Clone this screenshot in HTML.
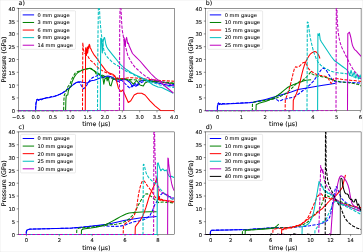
<!DOCTYPE html>
<html><head><meta charset="utf-8"><title>Pressure gauges</title>
<style>html,body{margin:0;padding:0;background:#fff}svg{display:block}</style></head>
<body>
<svg width="363" height="252" viewBox="0 0 363 252" font-family="DejaVu Sans, Liberation Sans, sans-serif" font-size="5.25" fill="#000" stroke="#000" stroke-width="0.07">
<rect width="363" height="252" fill="#fff"/>
<g id="pa">
<rect x="18.4" y="8.3" width="155.90" height="102.40" fill="none" stroke="#000" stroke-width="0.42"/>
<clipPath id="ca"><rect x="18.4" y="8.3" width="155.90" height="102.90"/></clipPath>
<g clip-path="url(#ca)" fill="none" stroke-width="1.05" stroke-linejoin="round">
<polyline points="18.4,110.7 35.6,110.7 36.0,104.0 36.8,100.2 37.5,99.5 38.5,100.5 40.0,99.2 41.5,99.8 43.0,98.6 45.0,98.5 46.7,97.6 49.0,97.8 51.0,97.0 53.0,96.8 55.0,96.2 57.5,95.3 60.0,94.2 63.3,92.5 66.0,90.6 68.0,89.0 70.0,87.5 72.0,85.6 75.0,83.3 77.0,82.3 80.0,81.7 82.0,82.2 85.0,82.6 87.0,83.2 89.0,82.0 91.0,80.8 94.3,80.3 97.0,79.3 99.3,78.3 102.7,77.5 105.0,76.5 108.0,76.0 111.0,76.8 113.0,77.5 115.0,79.5 118.0,81.5 121.0,79.8 124.0,79.3 126.7,80.0 130.0,82.5 132.5,86.7 135.0,83.3 136.7,85.8 139.2,81.7 143.3,80.0 148.0,80.5 153.3,81.7 158.0,83.0 163.3,84.2 168.0,85.3 174.3,86.0" stroke="#0000ff"/>
<polyline points="18.4,110.7 35.4,110.7 35.8,104.0 36.5,100.0 37.5,99.2 39.0,100.0 41.0,99.0 43.0,99.0 45.0,98.0 48.0,97.8 51.0,96.8 55.0,96.0 59.0,94.6 63.0,92.6 67.0,89.6 70.0,87.0 73.0,84.6 76.0,82.8 78.5,82.0 80.0,83.0 81.5,86.0 83.5,88.8 85.5,87.0 87.5,84.0 90.0,80.0 92.7,77.5 95.0,76.8 97.5,75.5 99.0,74.5 100.5,76.0 103.0,77.5 107.0,76.5 110.0,78.0 113.0,79.0 118.0,79.0 122.0,80.5 125.0,83.5 127.5,86.0 130.0,88.3 133.0,84.5 136.5,86.7 140.0,83.0 145.0,81.0 150.0,80.0 156.0,80.5 163.0,82.0 170.0,83.8 174.3,84.5" stroke="#0000ff" stroke-dasharray="3.2 1.4"/>
<polyline points="18.4,110.7 65.6,110.7 65.9,100.0 66.3,95.2 67.8,95.0 68.3,91.0 69.2,88.5 70.0,87.0 71.0,86.5 72.0,82.0 74.0,77.5 76.0,74.5 78.0,72.5 81.0,70.8 84.0,69.6 87.0,68.8 90.0,68.2 91.5,68.5 93.0,70.0 95.0,71.5 96.0,73.7 100.4,74.8 102.7,76.4 103.8,84.2 104.9,78.7 106.6,77.6 107.1,80.9 108.2,77.6 109.9,85.3 111.0,85.9 112.7,79.8 114.3,79.2 116.0,78.7 120.4,79.2 124.0,78.5 127.0,79.5 130.0,80.5 133.3,84.2 136.7,80.5 140.0,85.0 143.3,86.0 145.0,83.0 148.0,81.5 153.0,81.7 158.0,81.5 163.0,82.5 168.0,83.0 174.3,83.5" stroke="#008000"/>
<polyline points="18.4,110.7 63.6,110.7 63.9,100.0 64.3,95.0 65.5,93.0 66.8,89.0 68.0,86.5 70.0,84.0 71.5,79.5 73.5,76.0 75.0,73.3 78.0,71.5 81.0,70.4 84.0,69.5 87.0,69.0 90.0,68.6 93.0,70.0 96.0,72.0 99.0,73.8 102.0,75.0 105.0,76.5 108.0,77.5 112.0,78.0 116.0,78.3 121.0,78.8 126.0,79.3 132.0,79.8 140.0,80.0 150.0,80.8 160.0,81.8 174.3,83.0" stroke="#008000" stroke-dasharray="3.2 1.4"/>
<polyline points="18.4,110.7 85.3,110.7 85.6,47.7 86.0,53.0 86.4,55.5 86.8,49.0 87.2,47.0 87.6,53.3 88.0,50.5 88.4,46.0 88.8,48.5 89.2,44.2 89.7,45.0 90.2,47.7 91.0,49.0 91.8,51.0 94.3,55.2 97.7,59.3 99.3,62.0 102.7,66.4 106.0,70.9 109.3,73.1 112.7,74.2 114.9,75.9 116.3,80.0 117.7,85.3 118.5,88.3 121.0,91.7 122.8,90.0 125.0,95.0 128.3,102.5 130.8,100.8 134.2,95.0 137.5,93.3 141.7,93.3 145.0,95.0 150.0,100.8 155.0,105.8 160.8,110.7 174.3,110.7" stroke="#ff0000"/>
<polyline points="18.4,110.7 82.5,110.7 82.8,42.7 83.5,50.0 84.5,53.0 86.0,54.3 88.0,56.5 90.2,60.2 94.3,63.5 96.0,65.9 99.3,68.7 102.7,70.9 106.0,72.6 109.3,73.7 112.7,75.3 116.0,77.6 119.3,78.4 123.8,78.7 129.3,77.6 136.0,78.0 145.0,79.0 155.0,80.0 165.0,80.8 174.3,81.3" stroke="#ff0000" stroke-dasharray="3.2 1.4"/>
<polyline points="18.4,110.7 100.3,110.7 100.7,38.2 101.5,38.6 102.3,53.0 103.2,41.0 104.0,38.0 104.6,37.5 105.3,41.0 105.9,44.5 106.8,47.0 108.5,49.7 112.0,54.1 115.5,58.4 118.9,62.8 122.4,66.3 126.8,69.8 131.2,72.7 135.5,75.0 140.0,77.0 145.0,79.2 149.0,82.0 153.3,85.0 158.0,87.0 161.7,87.5 168.3,90.8 173.3,93.3" stroke="#00bfbf"/>
<polyline points="18.4,110.7 97.5,110.7 97.9,40.0 98.4,8.0 99.3,4.0 100.0,20.0 100.9,30.0 101.8,37.3 102.7,43.0 104.0,51.0 106.0,55.5 108.5,58.4 112.0,61.9 115.5,64.5 118.9,66.3 122.4,68.9 126.8,71.5 131.2,73.3 135.5,75.9 141.0,78.0 146.0,79.8 152.0,82.3 160.0,85.0 168.0,86.5 174.3,87.5" stroke="#00bfbf" stroke-dasharray="3.2 1.4"/>
<polyline points="123.7,110.7 124.1,37.7 124.7,41.0 125.3,46.0 125.9,40.0 126.6,37.4 127.2,40.5 127.6,43.5 128.3,43.0 129.2,46.0 132.5,53.5 135.8,56.8 140.0,61.0 145.0,66.8 150.8,73.5 155.0,77.7 160.0,81.7 166.7,87.5 173.3,93.0" stroke="#bf00bf"/>
<polyline points="18.4,110.7 119.4,110.7 119.7,30.0 120.1,4.0 120.8,4.0 121.5,20.0 122.2,30.0 123.5,37.3 124.2,41.0 125.9,48.0 127.7,55.0 130.3,60.5 132.9,64.6 135.5,67.8 137.5,69.5 141.7,73.3 147.0,77.3 153.3,79.8 161.7,81.7 174.3,86.0" stroke="#bf00bf" stroke-dasharray="3.2 1.4"/>
</g>
<text x="18.40" y="118.55" text-anchor="middle">−0.5</text>
<text x="35.72" y="118.55" text-anchor="middle">0.0</text>
<text x="53.04" y="118.55" text-anchor="middle">0.5</text>
<text x="70.37" y="118.55" text-anchor="middle">1.0</text>
<text x="87.69" y="118.55" text-anchor="middle">1.5</text>
<text x="105.01" y="118.55" text-anchor="middle">2.0</text>
<text x="122.33" y="118.55" text-anchor="middle">2.5</text>
<text x="139.66" y="118.55" text-anchor="middle">3.0</text>
<text x="156.98" y="118.55" text-anchor="middle">3.5</text>
<text x="174.30" y="118.55" text-anchor="middle">4.0</text>
<text x="15.10" y="113.10" text-anchor="end">0</text>
<text x="15.10" y="100.30" text-anchor="end">5</text>
<text x="15.10" y="87.50" text-anchor="end">10</text>
<text x="15.10" y="74.70" text-anchor="end">15</text>
<text x="15.10" y="61.90" text-anchor="end">20</text>
<text x="15.10" y="49.10" text-anchor="end">25</text>
<text x="15.10" y="36.30" text-anchor="end">30</text>
<text x="15.10" y="23.50" text-anchor="end">35</text>
<text x="15.10" y="10.70" text-anchor="end">40</text>
<path d="M18.40 110.7v1.7 M35.72 110.7v1.7 M53.04 110.7v1.7 M70.37 110.7v1.7 M87.69 110.7v1.7 M105.01 110.7v1.7 M122.33 110.7v1.7 M139.66 110.7v1.7 M156.98 110.7v1.7 M174.30 110.7v1.7 M18.4 110.70h-1.7 M18.4 97.90h-1.7 M18.4 85.10h-1.7 M18.4 72.30h-1.7 M18.4 59.50h-1.7 M18.4 46.70h-1.7 M18.4 33.90h-1.7 M18.4 21.10h-1.7 M18.4 8.30h-1.7" stroke="#000" stroke-width="0.42" fill="none"/>
<text x="96.35" y="126.30" text-anchor="middle" font-size="6.3">time (µs)</text>
<text transform="translate(5.70 59.50) rotate(-90)" text-anchor="middle" font-size="6.3">Pressure (GPa)</text>
<text x="18.60" y="5.20" font-size="6.3">a)</text>
<rect x="20.599999999999998" y="10.8" width="54.9" height="38.50" rx="0.8" fill="#fff" fill-opacity="0.8" stroke="#ccc" stroke-width="0.4"/>
<path d="M22.70 14.90h11.4" stroke="#0000ff" stroke-width="1"/>
<text x="37.60" y="16.75" font-size="5.05">0 mm gauge</text>
<path d="M22.70 22.48h11.4" stroke="#008000" stroke-width="1"/>
<text x="37.60" y="24.33" font-size="5.05">3 mm gauge</text>
<path d="M22.70 30.06h11.4" stroke="#ff0000" stroke-width="1"/>
<text x="37.60" y="31.91" font-size="5.05">6 mm gauge</text>
<path d="M22.70 37.64h11.4" stroke="#00bfbf" stroke-width="1"/>
<text x="37.60" y="39.49" font-size="5.05">9 mm gauge</text>
<path d="M22.70 45.22h11.4" stroke="#bf00bf" stroke-width="1"/>
<text x="37.60" y="47.07" font-size="5.05">14 mm gauge</text>
</g>
<g id="pb">
<rect x="205.5" y="8.3" width="155.60" height="102.40" fill="none" stroke="#000" stroke-width="0.42"/>
<clipPath id="cb"><rect x="205.5" y="8.3" width="155.60" height="102.90"/></clipPath>
<g clip-path="url(#cb)" fill="none" stroke-width="1.05" stroke-linejoin="round">
<polyline points="205.5,110.7 217.3,110.7 217.6,106.0 218.0,103.8 218.6,102.9 219.3,104.6 220.2,103.6 221.5,104.4 223.0,103.8 226.0,104.0 230.0,103.7 236.0,103.4 244.0,103.0 252.4,102.6 258.0,101.0 264.8,99.8 270.6,98.1 280.9,95.0 291.2,92.0 298.0,89.6 309.9,87.5 315.5,86.5 323.0,85.3 329.7,84.2 335.6,83.2" stroke="#0000ff"/>
<polyline points="205.5,110.7 217.1,110.7 217.4,106.0 217.8,104.0 218.6,103.3 220.0,104.2 222.0,103.6 226.0,103.8 232.0,103.4 240.0,103.0 250.0,102.6 258.0,101.4 265.0,100.0 270.0,99.0 274.7,98.3 277.0,99.8 278.9,101.2 281.0,100.4 283.0,99.6 289.2,98.1 294.3,97.1 298.5,94.0 303.0,90.5 306.7,87.9 310.2,84.4 313.7,80.9 317.2,75.7 320.7,70.4 323.3,67.8 325.9,69.6 328.5,73.9 331.2,78.3 333.8,80.9 335.5,81.8 340.0,82.0 347.0,82.3 355.0,82.8 361.1,83.0" stroke="#0000ff" stroke-dasharray="3.2 1.4"/>
<polyline points="205.5,110.7 256.0,110.7 256.2,104.5 257.5,104.0 259.0,103.3 262.4,102.3 265.5,101.4 268.6,100.2 271.6,98.8 274.7,97.1 277.8,95.2 280.9,93.0 284.0,90.4 287.1,87.8 290.2,86.0 293.3,84.7 296.4,83.6 299.5,82.5 303.2,80.9 306.0,80.3 308.5,80.0 311.1,79.7" stroke="#008000"/>
<polyline points="205.5,110.7 252.3,110.7 252.5,103.0 253.5,102.3 258.2,101.4 262.0,100.8 266.5,100.2 272.7,99.2 278.9,97.1 285.0,94.0 288.0,91.6 291.2,88.9 294.0,86.0 296.4,83.7 299.0,82.0 301.5,80.6 303.2,80.0 306.0,77.5 308.5,74.8 310.6,72.2 312.0,73.9 315.5,75.7 320.7,76.5 325.9,77.4 332.9,80.0 340.0,81.8 347.0,82.6 352.7,83.2 358.6,84.6 361.1,86.0" stroke="#008000" stroke-dasharray="3.2 1.4"/>
<polyline points="205.5,110.7 293.1,110.7 293.3,100.2 294.2,98.2 295.3,96.0 296.4,93.8 297.5,90.8 298.7,87.1 299.8,82.8 300.9,78.2 302.0,73.6 303.1,69.3 304.2,65.8 305.3,62.7 306.5,60.2 307.6,58.2 308.9,56.0 310.2,54.2 312.5,52.4 314.6,51.6 316.0,51.8 317.2,53.0 318.4,54.8 319.3,56.8 320.0,58.5" stroke="#ff0000"/>
<polyline points="205.5,110.7 285.1,110.7 285.3,100.4 286.4,97.0 287.6,93.8 288.7,90.5 289.8,87.1 290.9,82.8 292.0,78.2 293.1,73.5 294.2,69.3 295.0,67.5 295.8,66.7 296.7,67.3 297.6,67.1 298.7,66.5 299.8,66.0 301.5,64.2 303.1,62.7 304.5,62.2 306.0,63.5 307.3,66.0 308.7,68.9 311.0,71.3 315.5,73.9 320.0,75.3 325.9,76.5 328.0,78.0 329.7,81.0 331.2,83.5 332.5,81.5 333.5,79.0 334.6,78.3 338.0,78.8 342.8,79.5 350.0,80.2 356.0,80.8 361.1,81.5" stroke="#ff0000" stroke-dasharray="3.2 1.4"/>
<polyline points="205.5,110.7 317.6,110.7 317.9,33.8 318.6,35.5 319.4,33.4 320.2,39.4 321.5,42.0 322.9,44.0 324.2,46.0 327.7,51.2 331.2,56.5 334.6,60.8 338.8,63.8 342.8,66.7 346.8,69.7 348.5,72.0 349.7,75.2 351.1,70.3 352.7,76.2 354.3,72.0 355.7,78.0 357.1,74.0 358.6,79.0 360.2,75.0 361.1,79.0" stroke="#00bfbf"/>
<polyline points="205.5,110.7 307.0,110.7 307.3,22.1 308.2,22.5 308.7,27.0 309.6,33.6 310.4,38.5 311.4,42.8 312.5,47.5 313.7,52.1 315.0,55.5 316.3,59.0 318.0,62.0 320.7,65.2 323.0,67.0 325.9,68.7 329.0,70.3 332.9,71.8 338.8,72.9 344.8,73.5 347.8,74.1 352.7,76.6 357.0,77.8 361.1,78.6" stroke="#00bfbf" stroke-dasharray="3.2 1.4"/>
<polyline points="347.5,110.7 347.8,33.6 348.6,33.0 349.4,32.2 350.2,35.0 351.0,38.2 351.7,42.0 352.4,45.1 353.2,47.0 354.0,48.6 355.0,49.8 356.3,50.9 358.0,52.8 359.8,54.8 361.1,56.4" stroke="#bf00bf"/>
<polyline points="205.5,110.7 336.0,110.7 336.3,4.0 336.8,4.0 337.2,19.8 338.1,31.3 339.1,38.2 340.2,42.8 341.8,47.4 344.1,52.1 346.4,56.7 348.5,61.0 350.5,65.0 352.7,68.7 355.7,72.7 359.6,77.2 361.1,79.0" stroke="#bf00bf" stroke-dasharray="3.2 1.4"/>
</g>
<text x="217.74" y="118.55" text-anchor="middle">0</text>
<text x="241.52" y="118.55" text-anchor="middle">1</text>
<text x="265.29" y="118.55" text-anchor="middle">2</text>
<text x="289.07" y="118.55" text-anchor="middle">3</text>
<text x="312.84" y="118.55" text-anchor="middle">4</text>
<text x="336.61" y="118.55" text-anchor="middle">5</text>
<text x="360.39" y="118.55" text-anchor="middle">6</text>
<text x="202.20" y="113.10" text-anchor="end">0</text>
<text x="202.20" y="100.30" text-anchor="end">5</text>
<text x="202.20" y="87.50" text-anchor="end">10</text>
<text x="202.20" y="74.70" text-anchor="end">15</text>
<text x="202.20" y="61.90" text-anchor="end">20</text>
<text x="202.20" y="49.10" text-anchor="end">25</text>
<text x="202.20" y="36.30" text-anchor="end">30</text>
<text x="202.20" y="23.50" text-anchor="end">35</text>
<text x="202.20" y="10.70" text-anchor="end">40</text>
<path d="M217.74 110.7v1.7 M241.52 110.7v1.7 M265.29 110.7v1.7 M289.07 110.7v1.7 M312.84 110.7v1.7 M336.61 110.7v1.7 M360.39 110.7v1.7 M205.5 110.70h-1.7 M205.5 97.90h-1.7 M205.5 85.10h-1.7 M205.5 72.30h-1.7 M205.5 59.50h-1.7 M205.5 46.70h-1.7 M205.5 33.90h-1.7 M205.5 21.10h-1.7 M205.5 8.30h-1.7" stroke="#000" stroke-width="0.42" fill="none"/>
<text x="283.30" y="126.30" text-anchor="middle" font-size="6.3">time (µs)</text>
<text transform="translate(192.80 59.50) rotate(-90)" text-anchor="middle" font-size="6.3">Pressure (GPa)</text>
<text x="205.70" y="5.20" font-size="6.3">b)</text>
<rect x="207.7" y="10.8" width="54.9" height="38.50" rx="0.8" fill="#fff" fill-opacity="0.8" stroke="#ccc" stroke-width="0.4"/>
<path d="M209.80 14.90h11.4" stroke="#0000ff" stroke-width="1"/>
<text x="224.70" y="16.75" font-size="5.05">0 mm gauge</text>
<path d="M209.80 22.48h11.4" stroke="#008000" stroke-width="1"/>
<text x="224.70" y="24.33" font-size="5.05">10 mm gauge</text>
<path d="M209.80 30.06h11.4" stroke="#ff0000" stroke-width="1"/>
<text x="224.70" y="31.91" font-size="5.05">15 mm gauge</text>
<path d="M209.80 37.64h11.4" stroke="#00bfbf" stroke-width="1"/>
<text x="224.70" y="39.49" font-size="5.05">20 mm gauge</text>
<path d="M209.80 45.22h11.4" stroke="#bf00bf" stroke-width="1"/>
<text x="224.70" y="47.07" font-size="5.05">25 mm gauge</text>
</g>
<g id="pc">
<rect x="18.4" y="131.9" width="155.90" height="102.60" fill="none" stroke="#000" stroke-width="0.42"/>
<clipPath id="cc"><rect x="18.4" y="131.9" width="155.90" height="103.10"/></clipPath>
<g clip-path="url(#cc)" fill="none" stroke-width="1.05" stroke-linejoin="round">
<polyline points="18.4,234.5 26.2,234.5 26.4,232.0 26.8,230.6 27.6,229.7 29.6,229.2 35.0,229.0 46.9,228.7 56.0,228.5 66.2,228.3 72.0,228.1 83.4,227.1 94.9,225.8 106.3,224.3 112.0,223.3 117.7,222.0 123.9,220.6 131.9,219.2 139.8,218.1 147.8,217.2 156.7,216.4" stroke="#0000ff"/>
<polyline points="18.4,234.5 26.0,234.5 26.2,232.0 26.7,230.4 27.6,229.6 30.0,229.1 40.0,228.9 55.0,228.5 70.0,228.2 83.0,227.2 94.0,226.0 100.6,225.4 105.0,225.9 110.1,226.3 115.0,226.4 119.6,226.2 123.9,225.5 127.9,223.8 133.9,221.8 139.8,220.8 145.8,218.8 149.8,215.8 152.8,209.8 154.7,204.9 156.7,201.9 158.7,197.9 160.7,194.9 162.8,192.9 164.5,193.7 167.7,195.9 171.6,197.4 174.3,198.3" stroke="#0000ff" stroke-dasharray="3.2 1.4"/>
<polyline points="18.4,234.5 81.3,234.5 81.5,230.2 82.4,229.5 83.4,229.0 87.0,228.5 91.0,228.1 96.0,227.3 100.6,226.2 106.3,224.3 109.0,223.0 112.0,221.4 115.0,219.8 117.7,218.2 120.5,216.6 123.4,215.2 126.0,214.0 129.1,213.1 133.9,212.4 141.8,212.0 149.8,211.8 156.7,211.8" stroke="#008000"/>
<polyline points="18.4,234.5 76.6,234.5 76.8,229.3 78.0,228.6 79.6,228.1 85.0,227.6 91.0,227.1 97.0,226.5 102.5,225.8 106.5,225.2 110.1,224.7 115.8,224.3 119.0,223.8 121.5,223.0 124.5,221.8 127.9,219.8 131.0,217.0 133.9,213.8 136.0,210.0 137.9,205.9 140.0,202.0 141.8,198.9 144.0,195.6 145.8,193.9 147.2,193.7 148.8,194.9 151.8,196.9 155.7,200.4 158.7,202.6 163.0,202.0 168.0,202.4 174.3,203.0" stroke="#008000" stroke-dasharray="3.2 1.4"/>
<polyline points="18.4,234.5 135.1,234.5 135.3,227.0 136.0,225.8 136.9,224.7 138.4,222.8 139.8,220.8 141.3,218.5 142.8,215.8 144.3,212.0 145.8,207.9 147.3,203.0 148.8,197.9 150.3,194.0 151.8,190.5 153.2,187.5 154.8,184.2 156.0,180.5 156.8,178.0 157.4,180.0 157.8,186.0 158.2,194.0 158.6,199.5 159.4,197.0 160.2,200.4 161.5,199.2 163.0,200.0 166.0,200.4 170.0,201.0 174.3,201.6" stroke="#ff0000"/>
<polyline points="18.4,234.5 123.2,234.5 123.4,226.0 124.9,223.8 127.9,221.8 130.0,220.4 131.9,218.8 133.5,216.5 134.9,213.8 136.0,210.0 136.9,205.9 137.6,200.5 138.3,195.9 139.2,191.0 140.0,187.7 141.0,184.0 142.0,181.8 142.9,180.4 143.9,180.8 145.0,182.0 145.9,183.7 147.4,185.7 148.9,187.7 150.4,189.7 151.9,191.7 153.4,194.0 154.8,196.6 156.3,198.3 157.8,199.6 161.0,200.3 165.0,200.8 170.0,201.6 174.3,202.3" stroke="#ff0000" stroke-dasharray="3.2 1.4"/>
<polyline points="18.4,234.5 157.1,234.5 157.4,163.2 158.2,162.9 158.8,165.0 159.4,166.9 160.1,169.0 160.8,170.8 161.8,169.6 162.8,168.9 163.8,170.0 164.8,170.8 165.8,170.2 166.8,169.9 167.3,172.0 167.7,173.8 168.7,175.5 169.7,176.8 170.7,176.4 171.7,176.2 172.7,177.0 173.7,177.4 174.3,177.0" stroke="#00bfbf"/>
<polyline points="18.4,234.5 143.0,234.5 143.3,164.7 143.9,164.3 144.6,166.5 145.5,170.8 146.2,173.0 146.9,174.8 147.9,176.4 148.9,177.8 150.9,179.8 152.9,181.8 154.8,183.0 157.0,185.0 159.5,188.0 162.0,191.0 165.0,194.0 168.0,196.5 171.0,198.5 174.3,200.0" stroke="#00bfbf" stroke-dasharray="3.2 1.4"/>
<polyline points="167.6,234.5 167.9,158.0 168.3,158.5 168.7,163.9 169.2,168.0 169.7,171.8 170.2,175.0 170.7,177.8 171.2,181.0 171.7,183.7 172.5,186.5 173.3,188.7 174.3,190.8" stroke="#bf00bf"/>
<polyline points="18.4,234.5 153.6,234.5 153.9,128.0 154.5,128.0 154.9,150.0 155.4,166.0 156.0,176.0 156.8,183.0 157.8,187.0 159.8,190.8 162.0,192.5 164.5,193.8 168.0,195.2 171.0,197.6 174.3,199.5" stroke="#bf00bf" stroke-dasharray="3.2 1.4"/>
</g>
<text x="26.45" y="242.35" text-anchor="middle">0</text>
<text x="59.31" y="242.35" text-anchor="middle">2</text>
<text x="92.16" y="242.35" text-anchor="middle">4</text>
<text x="125.02" y="242.35" text-anchor="middle">6</text>
<text x="157.87" y="242.35" text-anchor="middle">8</text>
<text x="15.10" y="236.90" text-anchor="end">0</text>
<text x="15.10" y="224.08" text-anchor="end">5</text>
<text x="15.10" y="211.25" text-anchor="end">10</text>
<text x="15.10" y="198.43" text-anchor="end">15</text>
<text x="15.10" y="185.60" text-anchor="end">20</text>
<text x="15.10" y="172.78" text-anchor="end">25</text>
<text x="15.10" y="159.95" text-anchor="end">30</text>
<text x="15.10" y="147.13" text-anchor="end">35</text>
<text x="15.10" y="134.30" text-anchor="end">40</text>
<path d="M26.45 234.5v1.7 M59.31 234.5v1.7 M92.16 234.5v1.7 M125.02 234.5v1.7 M157.87 234.5v1.7 M18.4 234.50h-1.7 M18.4 221.68h-1.7 M18.4 208.85h-1.7 M18.4 196.03h-1.7 M18.4 183.20h-1.7 M18.4 170.38h-1.7 M18.4 157.55h-1.7 M18.4 144.73h-1.7 M18.4 131.90h-1.7" stroke="#000" stroke-width="0.42" fill="none"/>
<text x="96.35" y="250.10" text-anchor="middle" font-size="6.3">time (µs)</text>
<text transform="translate(5.70 183.20) rotate(-90)" text-anchor="middle" font-size="6.3">Pressure (GPa)</text>
<text x="18.60" y="128.80" font-size="6.3">c)</text>
<rect x="20.599999999999998" y="134.4" width="54.9" height="38.50" rx="0.8" fill="#fff" fill-opacity="0.8" stroke="#ccc" stroke-width="0.4"/>
<path d="M22.70 138.50h11.4" stroke="#0000ff" stroke-width="1"/>
<text x="37.60" y="140.35" font-size="5.05">0 mm gauge</text>
<path d="M22.70 146.08h11.4" stroke="#008000" stroke-width="1"/>
<text x="37.60" y="147.93" font-size="5.05">10 mm gauge</text>
<path d="M22.70 153.66h11.4" stroke="#ff0000" stroke-width="1"/>
<text x="37.60" y="155.51" font-size="5.05">20 mm gauge</text>
<path d="M22.70 161.24h11.4" stroke="#00bfbf" stroke-width="1"/>
<text x="37.60" y="163.09" font-size="5.05">25 mm gauge</text>
<path d="M22.70 168.82h11.4" stroke="#bf00bf" stroke-width="1"/>
<text x="37.60" y="170.67" font-size="5.05">30 mm gauge</text>
</g>
<g id="pd">
<rect x="205.5" y="131.9" width="155.60" height="102.60" fill="none" stroke="#000" stroke-width="0.42"/>
<clipPath id="cd"><rect x="205.5" y="131.9" width="155.60" height="103.10"/></clipPath>
<g clip-path="url(#cd)" fill="none" stroke-width="1.05" stroke-linejoin="round">
<polyline points="205.5,234.5 210.3,234.5 210.5,232.0 210.9,230.8 211.8,230.3 216.0,230.2 227.0,230.1 238.0,229.8 249.0,229.5 260.0,228.8 271.0,228.0 278.5,227.5" stroke="#0000ff"/>
<polyline points="205.5,234.5 210.2,234.5 210.4,232.0 210.9,230.6 212.0,230.2 227.0,230.0 249.0,229.4 268.0,228.0 278.0,227.7 293.0,227.3 301.3,226.8 309.7,225.7 318.0,224.3 321.0,223.5 324.1,222.5 327.6,220.2 329.4,217.8 330.6,214.5 331.8,207.4 332.7,202.5 333.6,197.9 334.8,190.8 335.8,187.2 336.8,186.6 337.8,189.6 339.0,192.5 340.1,195.5 341.8,198.6 343.7,200.6 346.0,202.6 350.6,205.3 355.2,207.1 361.1,208.7" stroke="#0000ff" stroke-dasharray="3.2 1.4"/>
<polyline points="205.5,234.5 245.1,234.5 245.3,230.8 246.5,230.3 250.0,230.0 258.0,229.6 266.0,228.9 271.0,228.4 274.7,227.7 277.2,225.7 278.8,224.0" stroke="#008000"/>
<polyline points="205.5,234.5 242.3,234.5 242.5,230.6 244.0,230.1 252.0,229.7 262.0,229.0 268.0,228.2 284.7,227.7 293.0,227.2 299.7,226.0 303.8,224.3 308.0,221.8 311.3,218.5 314.7,214.3 318.0,211.0 320.0,208.0 322.0,203.5 324.0,198.0 325.3,194.5 327.2,195.7 329.1,196.7 331.0,197.6 335.0,199.5 340.0,201.5 346.0,203.8 352.0,206.0 361.1,209.0" stroke="#008000" stroke-dasharray="3.2 1.4"/>
<polyline points="205.5,234.5 281.5,234.5 281.7,229.3 283.0,229.7 284.7,228.5 286.0,229.1 287.5,228.1 289.7,227.7 291.5,228.1 293.0,226.5 294.7,226.9 296.5,225.5 298.0,225.9 299.7,224.7 301.5,224.1 303.0,222.6 304.7,221.9 306.3,220.1 308.0,219.5 309.7,217.6 311.3,217.1 313.0,215.3 315.1,215.0 316.8,213.0 318.7,211.9 320.5,209.8 322.3,208.8 324.0,206.6 325.9,205.2 327.6,202.8 329.4,201.0 331.0,199.3 332.4,198.5 335.4,196.1 337.2,194.2 339.0,192.0 340.8,189.6 342.5,187.2 343.8,181.5 345.5,174.8" stroke="#ff0000"/>
<polyline points="205.5,234.5 272.8,234.5 273.0,229.3 275.0,228.9 278.0,228.5 284.7,228.0 291.3,227.3 296.3,226.3 301.3,224.3 304.7,221.4 308.0,217.4 310.0,213.6 311.6,209.8 313.4,205.5 315.1,201.5 316.3,199.0 317.5,196.7 318.7,195.2 319.9,194.3 321.1,193.7 322.0,194.6 322.9,196.1 323.5,199.7 324.4,198.2 325.3,197.3 327.0,197.8 329.4,198.5 334.2,200.0 338.0,201.8 343.7,204.1 350.6,205.7 357.5,207.1 361.1,207.6" stroke="#ff0000" stroke-dasharray="3.2 1.4"/>
<polyline points="205.5,234.5 302.0,234.5 302.2,227.0 303.8,226.0 306.3,225.2 308.8,223.5 310.5,221.0 312.2,216.8 313.4,213.0 314.5,208.0 315.7,201.0 316.6,196.0 317.5,191.0 318.3,186.0 319.1,181.4 319.8,182.8 320.5,185.0 321.3,184.2 322.0,187.0 322.8,186.5 323.4,189.5 324.7,190.6 325.6,192.6 326.8,191.4 328.0,193.6 329.4,192.9 330.6,195.0 331.8,194.2 333.0,197.0 335.0,198.6 338.0,201.6 342.0,204.0 346.0,205.6 351.0,207.6 356.0,209.6 361.1,211.4" stroke="#00bfbf"/>
<polyline points="205.5,234.5 314.8,234.5 315.0,230.2 316.3,228.5 318.0,226.0 320.5,223.5 323.0,221.8 325.5,220.6 326.8,218.0 327.6,215.8 329.0,212.8 330.6,209.8 331.8,206.8 333.0,203.9 334.5,201.8 336.5,201.4 339.0,203.0 342.0,204.8 346.0,206.6 352.9,210.0 361.1,214.5" stroke="#00bfbf" stroke-dasharray="3.2 1.4"/>
<polyline points="205.5,234.5 330.8,234.5 331.0,232.0 331.7,221.4 332.7,207.6 333.6,201.5 334.5,198.4 335.9,193.5 336.8,189.5 337.7,184.0 338.8,179.5 339.8,177.0 341.2,175.7 342.9,176.6 344.2,178.2 345.5,180.1 346.9,182.6 348.2,185.8 349.2,189.5 350.1,195.0 351.0,199.5 351.7,203.0 353.5,205.5 356.0,207.5 361.1,210.0" stroke="#bf00bf"/>
<polyline points="205.5,234.5 318.6,234.5 318.9,228.0 319.3,216.0 319.9,198.0 320.3,180.0 320.7,165.6 321.2,167.6 321.7,170.7 322.2,172.3 322.9,169.5 323.3,173.1 323.7,177.1 324.3,180.0 326.2,184.8 328.1,188.6 330.0,191.4 332.0,194.3 333.9,197.1 335.8,199.0 340.0,202.5 346.0,205.5 352.0,208.0 361.1,211.5" stroke="#bf00bf" stroke-dasharray="3.2 1.4"/>
<polyline points="205.5,234.5 268.0,234.5 270.0,234.5 270.8,233.7 272.9,234.5 276.5,234.5 277.3,234.0 280.6,234.5 281.4,233.9 285.1,234.5 289.2,234.5 292.8,234.5 293.6,233.6 296.9,234.5 300.8,234.5 302.9,234.5 306.4,234.5 307.2,234.0 310.6,234.5 314.4,234.5 318.2,234.5 321.2,234.5 324.3,234.5 328.5,234.5 329.3,233.9 331.0,234.5 334.1,234.5 336.8,234.5 340.3,234.5" stroke="#000000" stroke-width="0.9"/>
<polyline points="340.3,234.5 340.3,178.3" stroke="#000000" stroke-width="0.75"/>
<polyline points="341.0,178.0 342.0,179.2 342.9,186.2 343.7,189.2 344.7,192.3 346.0,193.8 347.3,194.0 348.3,194.9 349.0,197.5 350.6,199.5 351.6,199.3 352.9,201.8 354.3,201.9 355.2,199.5 356.0,199.3 357.5,205.3 358.6,204.0 359.8,207.6 361.1,211.0" stroke="#000000"/>
<polyline points="205.5,234.5 325.2,234.5 325.5,128.0 325.9,128.0 326.1,166.8 326.7,172.3 327.3,177.1 327.8,181.0 328.6,183.8 330.0,187.6 331.5,190.5 333.3,194.5 335.0,198.0 336.8,201.8 340.2,206.4 342.5,212.2 344.8,217.9 348.3,222.5 352.9,226.0 357.5,228.3 361.1,229.4" stroke="#000000" stroke-dasharray="3.2 1.4"/>
</g>
<text x="210.55" y="242.35" text-anchor="middle">0</text>
<text x="230.56" y="242.35" text-anchor="middle">2</text>
<text x="250.56" y="242.35" text-anchor="middle">4</text>
<text x="270.57" y="242.35" text-anchor="middle">6</text>
<text x="290.58" y="242.35" text-anchor="middle">8</text>
<text x="310.58" y="242.35" text-anchor="middle">10</text>
<text x="330.59" y="242.35" text-anchor="middle">12</text>
<text x="350.60" y="242.35" text-anchor="middle">14</text>
<text x="202.20" y="236.90" text-anchor="end">0</text>
<text x="202.20" y="224.08" text-anchor="end">5</text>
<text x="202.20" y="211.25" text-anchor="end">10</text>
<text x="202.20" y="198.43" text-anchor="end">15</text>
<text x="202.20" y="185.60" text-anchor="end">20</text>
<text x="202.20" y="172.78" text-anchor="end">25</text>
<text x="202.20" y="159.95" text-anchor="end">30</text>
<text x="202.20" y="147.13" text-anchor="end">35</text>
<text x="202.20" y="134.30" text-anchor="end">40</text>
<path d="M210.55 234.5v1.7 M230.56 234.5v1.7 M250.56 234.5v1.7 M270.57 234.5v1.7 M290.58 234.5v1.7 M310.58 234.5v1.7 M330.59 234.5v1.7 M350.60 234.5v1.7 M205.5 234.50h-1.7 M205.5 221.68h-1.7 M205.5 208.85h-1.7 M205.5 196.03h-1.7 M205.5 183.20h-1.7 M205.5 170.38h-1.7 M205.5 157.55h-1.7 M205.5 144.73h-1.7 M205.5 131.90h-1.7" stroke="#000" stroke-width="0.42" fill="none"/>
<text x="283.30" y="250.10" text-anchor="middle" font-size="6.3">time (µs)</text>
<text transform="translate(192.80 183.20) rotate(-90)" text-anchor="middle" font-size="6.3">Pressure (GPa)</text>
<text x="205.70" y="128.80" font-size="6.3">d)</text>
<rect x="207.7" y="134.4" width="54.9" height="46.08" rx="0.8" fill="#fff" fill-opacity="0.8" stroke="#ccc" stroke-width="0.4"/>
<path d="M209.80 138.50h11.4" stroke="#0000ff" stroke-width="1"/>
<text x="224.70" y="140.35" font-size="5.05">0 mm gauge</text>
<path d="M209.80 146.08h11.4" stroke="#008000" stroke-width="1"/>
<text x="224.70" y="147.93" font-size="5.05">10 mm gauge</text>
<path d="M209.80 153.66h11.4" stroke="#ff0000" stroke-width="1"/>
<text x="224.70" y="155.51" font-size="5.05">20 mm gauge</text>
<path d="M209.80 161.24h11.4" stroke="#00bfbf" stroke-width="1"/>
<text x="224.70" y="163.09" font-size="5.05">30 mm gauge</text>
<path d="M209.80 168.82h11.4" stroke="#bf00bf" stroke-width="1"/>
<text x="224.70" y="170.67" font-size="5.05">35 mm gauge</text>
<path d="M209.80 176.40h11.4" stroke="#000000" stroke-width="1"/>
<text x="224.70" y="178.25" font-size="5.05">40 mm gauge</text>
</g>
</svg>
</body></html>
